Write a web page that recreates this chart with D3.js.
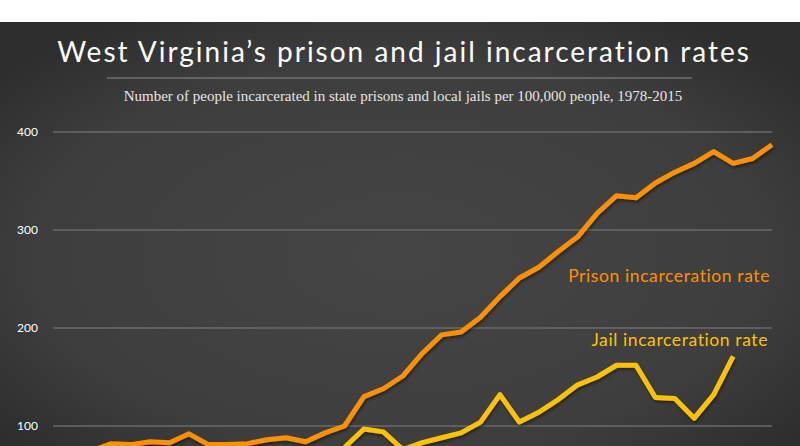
<!DOCTYPE html>
<html><head><meta charset="utf-8">
<script src="https://cdn.jsdelivr.net/npm/d3@7"></script>
<style>body{margin:0;background:#fff}</style>
</head><body>
<svg id="chart" width="800" height="446"></svg>
<script>
// 年と数値
const years = d3.range(1978, 2016);
const prisonRate = [70, 72, 75, 82, 81, 84, 83, 92, 81, 81, 82, 86, 88, 84, 93, 100, 130, 138, 151, 174,
  193, 196, 211, 232, 251, 262, 278, 293, 317, 335, 333, 348, 359, 368, 380, 368, 373, 387];
const jailYears = d3.range(1993, 2014);
const jailRate = [78, 97, 94, 76, 83, 88, 93, 104, 132, 104, 114, 127, 142, 150, 162, 162, 129, 128, 108, 132, 171];
const yTicks = [100, 200, 300, 400];

const svg = d3.select("#chart");
const W = 800, H = 446;

// 背景（上の白帯 + 暗いビネット）
const defs = svg.append("defs");
const grad = defs.append("radialGradient").attr("id", "bg").attr("cx", "50%").attr("cy", "55%").attr("r", "65%");
grad.append("stop").attr("offset", "0%").attr("stop-color", "#454545");
grad.append("stop").attr("offset", "70%").attr("stop-color", "#3e3e3e");
grad.append("stop").attr("offset", "100%").attr("stop-color", "#2e2e2e");
const shadow = defs.append("filter").attr("id", "sh").attr("x", "-10%").attr("y", "-10%").attr("width", "120%").attr("height", "130%");
shadow.append("feDropShadow").attr("dx", 1).attr("dy", 2).attr("stdDeviation", 1.5).attr("flood-color", "#000").attr("flood-opacity", 0.45);

svg.append("rect").attr("width", W).attr("height", H).attr("fill", "#fff");
svg.append("rect").attr("y", 22).attr("width", W).attr("height", H - 22).attr("fill", "url(#bg)");

// スケール
const x = d3.scaleLinear().domain([1978, 2015]).range([53, 772]);
const y = d3.scaleLinear().domain([100, 400]).range([426, 132]);

// グリッドと目盛り
yTicks.forEach(t => {
  svg.append("line").attr("x1", 53).attr("x2", 772).attr("y1", y(t)).attr("y2", y(t))
    .attr("stroke", "#6a6a6a").attr("stroke-width", 1.5);
  svg.append("text").attr("x", 38).attr("y", y(t)).attr("dy", "0.35em").attr("text-anchor", "end")
    .attr("fill", "#fff").style("font-family", "Lato, sans-serif").style("font-size", "12px").text(t);
});

// タイトル
svg.append("text").attr("x", 404).attr("y", 62).attr("text-anchor", "middle").attr("fill", "#fff")
  .style("font-family", "Lato, sans-serif").style("font-size", "28px").style("letter-spacing", "2px")
  .text("West Virginia’s prison and jail incarceration rates");
svg.append("line").attr("x1", 107).attr("x2", 692).attr("y1", 78).attr("y2", 78)
  .attr("stroke", "#8a8a8a").attr("stroke-width", 1);
svg.append("text").attr("x", 403).attr("y", 101).attr("text-anchor", "middle").attr("fill", "#e6e6e6")
  .style("font-family", "'Liberation Serif', serif").style("font-size", "15px")
  .text("Number of people incarcerated in state prisons and local jails per 100,000 people, 1978-2015");

// 線
const line = d3.line().x(d => x(d[0])).y(d => y(d[1]));
svg.append("path").datum(years.map((yr, i) => [yr, prisonRate[i]])).attr("d", line)
  .attr("fill", "none").attr("stroke", "#ff9100").attr("stroke-width", 5).attr("stroke-linejoin", "round")
  .attr("filter", "url(#sh)");
svg.append("path").datum(jailYears.map((yr, i) => [yr, jailRate[i]])).attr("d", line)
  .attr("fill", "none").attr("stroke", "#ffc200").attr("stroke-width", 5).attr("stroke-linejoin", "round")
  .attr("filter", "url(#sh)");

// ラベル
svg.append("text").attr("x", 770).attr("y", 282).attr("text-anchor", "end").attr("fill", "#ff9100")
  .style("font-family", "Lato, sans-serif").style("font-size", "17.5px").style("letter-spacing", "0.6px")
  .text("Prison incarceration rate");
svg.append("text").attr("x", 768).attr("y", 346).attr("text-anchor", "end").attr("fill", "#ffc200")
  .style("font-family", "Lato, sans-serif").style("font-size", "17.5px").style("letter-spacing", "0.6px")
  .text("Jail incarceration rate");
</script>
</body></html>
